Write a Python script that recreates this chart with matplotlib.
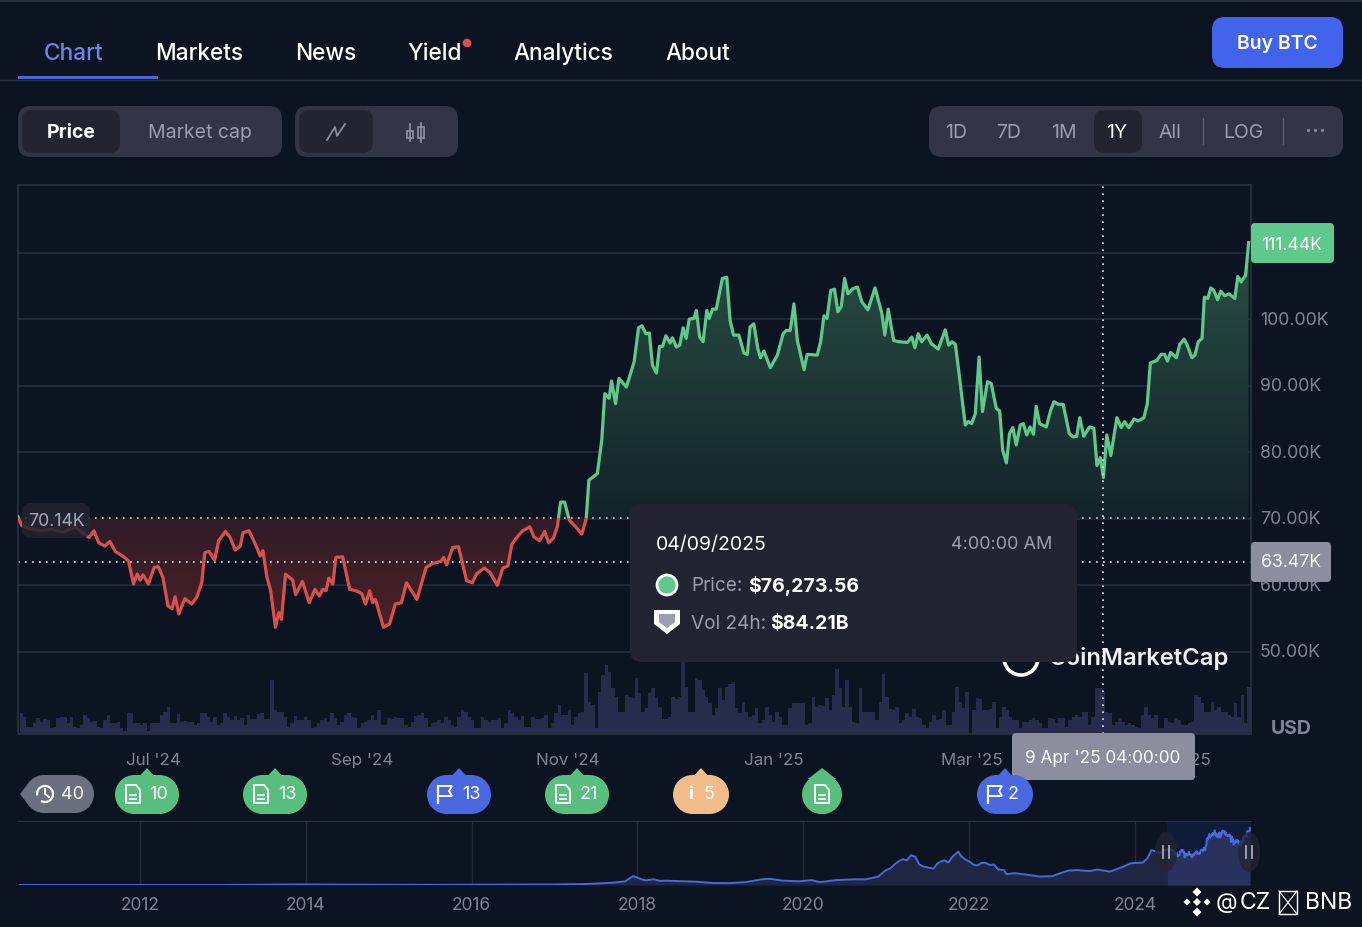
import numpy as np
import matplotlib
matplotlib.use('Agg')
import matplotlib.pyplot as plt
from matplotlib.colors import LinearSegmentedColormap
from matplotlib.patches import FancyBboxPatch, Rectangle, Circle, Ellipse, Polygon, Arc
from matplotlib.path import Path

plt.rcParams['font.family'] = ['Inter', 'DejaVu Sans']

# days since 22 May 2024, price in thousands of USD
days_a = [0, 1.1, 2.9, 6.4, 9.9, 13.4, 16.9, 21.0, 22.5, 23.9, 25.7, 27.2, 28.8, 31.0, 32.7, 34.2, 35.3, 36.2, 37.0,
          38.6, 40.3, 41.5, 42.9, 44.4, 45.6, 46.5, 47.6, 49.4, 51.4, 52.9, 54.4, 55.3, 56.5, 58.2, 59.4, 61.4, 62.8,
          64.3, 65.8, 66.6, 68.4, 70.5, 71.7, 72.5, 73.7, 74.8, 76.2, 77.2, 78.0, 79.2, 81.3, 82.2, 84.2, 86.2, 87.9,
          89.2, 90.2, 91.2, 92.0, 93.2, 94.1, 96.1, 98.2, 100.0, 101.7, 102.9, 104.1, 105.0, 105.8, 108.2, 110.0,
          111.7, 113.5, 115.0, 118.1, 120.8, 122.8, 125.2, 126.0, 126.9, 128.7, 130.4, 132.8, 134.5, 135.7, 138.0,
          139.8, 141.9, 143.5, 145.0, 146.2, 148.0, 149.4, 151.5, 152.7, 154.4, 155.9, 157.1, 158.5, 159.7, 160.6,
          161.8, 163.2, 164.9, 166.9, 168.2]
price_a = [70.3, 69.0, 68.6, 68.2, 68.4, 68.0, 68.8, 67.2, 68.2, 66.4, 65.9, 66.6, 65.1, 64.4, 63.7, 60.2, 61.7, 60.8, 61.6,
           60.2, 62.7, 62.8, 61.2, 56.9, 56.5, 58.3, 55.7, 58.0, 57.2, 58.2, 60.4, 64.9, 65.1, 63.8, 66.7, 68.1, 67.2,
           65.3, 65.9, 67.9, 68.2, 65.9, 64.4, 65.2, 61.2, 59.2, 53.7, 55.9, 54.9, 61.7, 60.8, 58.6, 60.6, 57.4, 59.4,
           58.4, 59.4, 59.2, 61.1, 60.2, 64.2, 64.3, 59.4, 59.2, 58.8, 57.2, 59.2, 57.4, 57.9, 53.7, 54.2,
           57.2, 57.4, 60.4, 57.9, 62.7, 63.3, 63.6, 64.2, 63.1, 65.7, 65.8, 60.7, 60.4, 61.7, 62.6,
           61.9, 60.0, 62.6, 62.9, 66.2, 67.4, 68.2, 68.8, 67.3, 66.7, 68.1, 66.4, 67.1, 68.9, 72.5,
           72.5, 69.8, 68.9, 67.7, 70.0]
days_b = [169.0, 171.5, 172.8, 173.7, 175.0, 175.7, 176.9, 177.9, 180.1, 182.4, 183.7, 184.7, 185.9, 186.9, 187.8, 189.0,
          189.9, 190.8, 191.8, 193.0, 193.7, 194.9, 195.9, 196.9, 197.8, 198.7, 200.1, 200.8, 201.8, 202.8, 203.9,
          204.6, 205.6, 206.7, 208.5, 209.8, 210.8, 211.8, 213.4, 214.9, 215.9, 216.7, 217.8, 219.0, 219.8, 220.8,
          222.7, 224.8, 226.5, 227.4, 228.6, 229.7, 230.7, 232.7, 233.6, 236.6, 237.6, 238.6, 239.5, 240.6, 241.7,
          242.7, 243.7, 244.7, 245.7, 247.2, 248.5, 249.8, 251.6, 253.7, 255.7, 256.6, 257.6, 259.2, 260.7, 263.3,
          264.6, 265.5, 266.5, 267.5, 269.1, 270.4, 272.4, 274.5, 275.5, 276.5, 277.5, 278.7, 280.4, 281.3, 282.3,
          283.4, 284.5, 285.5, 287.0, 288.1, 289.6, 290.6, 291.5, 292.6, 293.5, 294.5, 295.5, 296.7, 297.6, 298.6,
          299.6, 300.6, 301.4, 302.4, 304.4, 305.7, 306.7, 308.0, 309.4, 311.2, 312.3, 313.4, 314.3, 315.5, 317.2,
          318.5, 319.4, 320.4, 321.3, 322.3, 323.5, 325.3, 326.6, 327.6, 328.8, 330.4, 331.6, 333.3, 334.3, 335.2,
          337.1, 338.4, 339.4, 340.3, 341.2, 342.9, 343.9, 345.2, 346.1, 347.5, 348.4, 349.4, 350.5, 351.2, 352.2,
          353.1, 354.0, 355.1, 356.1, 357.2, 358.5, 360.2, 361.1, 362.1, 363.4, 364.3]
price_b = [75.8, 76.8, 81.8, 88.8, 88.1, 90.7, 87.3, 91.1, 89.8, 93.6, 98.7, 99.0, 97.8, 97.9, 93.1, 91.9,
           95.9, 95.9, 97.5, 96.4, 97.2, 95.8, 96.1, 98.7, 97.1, 100.0, 100.1, 101.3, 97.3, 96.6, 101.3,
           100.1, 101.5, 101.5, 106.1, 106.3, 99.8, 97.6, 97.6, 94.9, 94.7, 98.8, 99.3, 95.6, 94.2, 95.2,
           92.7, 94.6, 97.8, 98.3, 98.3, 102.3, 96.8, 92.4, 94.7, 94.6, 96.6, 100.5, 100.1, 104.3, 104.5,
           101.1, 101.9, 106.1, 103.8, 104.6, 104.8, 102.6, 101.4, 104.7, 100.9, 97.6, 101.5, 96.8, 96.6, 96.5,
           97.3, 95.7, 97.8, 96.6, 97.6, 96.3, 95.5, 98.4, 96.1, 96.6, 96.2, 91.3, 84.1, 84.6, 84.3,
           85.8, 94.3, 86.1, 90.6, 90.3, 86.6, 86.2, 80.3, 78.4, 82.8, 83.7, 81.1, 84.1, 84.3, 82.6,
           83.8, 82.7, 86.9, 84.3, 83.8, 86.3, 87.6, 87.2, 87.2, 82.8, 82.3, 82.4, 85.2, 82.4, 83.8,
           83.6, 78.0, 79.2, 76.2, 82.6, 79.5, 85.2, 83.7, 84.6, 83.7, 85.0, 84.7, 85.2, 87.3, 93.4,
           93.8, 94.7, 94.7, 93.7, 95.0, 94.2, 96.2, 97.0, 96.1, 94.2, 94.6, 96.6, 97.1, 103.3, 103.1,
           104.7, 104.3, 102.9, 104.2, 103.5, 103.8, 103.1, 106.4, 105.6, 106.6, 111.5]

base_price = 70.14
hover_price = 63.47
hover_day = 321.2
y_ticks = [50, 60, 70, 80, 90, 100, 110]
x_ticks = [40, 102, 162.7, 223.7, 282.4, 343.6]
x_labels = ["Jul '24", "Sep '24", "Nov '24", "Jan '25", "Mar '25", "May '25"]

# volume, four stretches of the year
vol_a = [21, 17, 7, 7, 11, 16, 12, 15, 14, 6, 7, 16, 17, 17, 11, 17, 7, 6, 9, 19, 16, 12, 13, 7, 6, 14, 19, 11, 11, 12,
         6, 3, 21, 21, 11, 11, 9, 11, 3, 11, 11, 11, 19, 22, 27, 11, 11, 20, 12, 13, 12, 12, 9, 11, 21, 21, 17, 12, 17,
         9, 11, 21, 17, 14, 18, 14, 16, 9, 19, 15, 15, 20, 21, 15, 15, 54, 24, 22, 22, 17, 7, 11, 18, 14, 14, 17, 14,
         6, 7, 11, 14, 16, 12, 21, 16]
vol_b = [11, 9, 12, 19, 21, 17, 16, 6, 11, 12, 14, 19, 14, 24, 9, 9, 16, 15, 17, 16, 16, 9, 7, 12, 18, 19, 21, 16, 7, 11,
         12, 14, 11, 17, 14, 9, 7, 17, 24, 22, 17, 14, 6, 6, 17, 14, 12, 14, 14, 16, 6, 11, 24, 21, 17, 14, 18, 7, 7,
         17, 15, 15, 16, 19, 6, 11, 21, 29, 19, 19, 24, 9, 17, 21, 22, 61, 32, 29, 6, 42, 59, 69, 62, 46, 37, 22, 22,
         39, 37, 36, 56, 41, 22, 26, 41, 46]
vol_c = [36, 27, 15, 15, 17, 37, 35, 37, 72, 47, 22, 22, 56, 54, 44, 37, 31, 19, 26, 46, 34, 47, 50, 52, 26, 21, 32, 22,
         17, 19, 26, 11, 14, 27, 19, 12, 22, 17, 9, 9, 26, 31, 31, 31, 31, 9, 11, 37, 27, 29, 28, 36, 24, 39, 65, 46,
         27, 54, 27, 12, 11, 46, 22, 22, 22, 22, 14, 32, 60, 37, 25, 24, 27, 11, 14, 21, 17, 25, 17, 16, 9, 6, 12, 19,
         14, 15, 24, 9, 9, 22, 47, 32, 26, 42]
vol_d = [24, 36, 35, 24, 24, 25, 32, 6, 17, 27, 24, 17, 14, 14, 6, 12, 12, 14, 16, 14, 11, 6, 6, 16, 15, 11, 16, 16, 7,
         14, 17, 19, 17, 22, 22, 9, 17, 46, 46, 42, 22, 21, 9, 12, 16, 12, 9, 11, 9, 7, 6, 19, 27, 19, 16, 19, 6, 6, 16,
         12, 11, 16, 14, 9, 9, 11, 12, 39, 37, 31, 22, 22, 32, 24, 27, 22, 22, 19, 17, 31, 17, 39, 11, 47]
vol_spans = [(1, 94), (94, 188), (189, 281), (283, 364.4)]
bn_per_unit = 1.83  # the hover bar reads $84.21B

# long history for the navigator, year and price in thousands
hist_year = [2010.55, 2013.0, 2013.9, 2014.5, 2015.5, 2016.5, 2017.0, 2017.4, 2017.7, 2017.85, 2017.95, 2018.05, 2018.1,
             2018.2, 2018.27, 2018.35, 2018.5, 2018.7, 2018.9, 2019.1, 2019.3, 2019.5, 2019.6, 2019.75, 2019.95, 2020.1,
             2020.2, 2020.4, 2020.6, 2020.75, 2020.9, 2021.0, 2021.05, 2021.1, 2021.15, 2021.2, 2021.25, 2021.3,
             2021.35, 2021.4, 2021.45, 2021.5, 2021.57, 2021.62, 2021.65, 2021.7, 2021.75, 2021.8, 2021.87, 2021.9,
             2021.95, 2022.0, 2022.05, 2022.1, 2022.15, 2022.2, 2022.25, 2022.3, 2022.35, 2022.42, 2022.45, 2022.55,
             2022.6, 2022.7, 2022.85, 2023.0, 2023.1, 2023.2, 2023.3, 2023.45, 2023.55, 2023.7, 2023.85, 2023.95,
             2024.1, 2024.15, 2024.2, 2024.3]
hist_price = [0, 0.01, 1, 0.6, 0.25, 0.65, 1, 2, 4.5, 7, 17.5, 11, 9, 11, 8, 8.5, 7.5, 6.5, 4, 3.6, 5.5, 11, 12, 8.5, 7.2,
              9.5, 5.5, 9.5, 11, 11, 16, 29, 32, 40, 46, 50, 48, 58, 55, 40, 36, 34, 32, 42, 45, 48, 44, 55, 65, 57,
              50, 46, 40, 38, 43, 43, 39, 40, 30, 29, 21, 23, 22, 20, 16.5, 17, 23, 28, 29, 27, 30, 26, 35, 42, 44,
              52, 68, 62]
window_start = 2024.39

bg = '#0d1421'
grid_col = '#222938'
frame_col = '#2b3242'
green = '#5ec98a'
red = '#d9514f'
blue = '#4263eb'
tick_col = '#7f8595'
panel = '#323546'
dark = '#222531'

W, H = 1362, 928
fig = plt.figure(figsize=(W / 100, H / 100), dpi=100, facecolor=bg)


def axes_px(x0, y0, x1, y1):
    return [x0 / W, 1 - (y1 + 1) / H, (x1 - x0) / W, (y1 - y0) / H]


days = np.array(days_a + days_b)
price = np.array(price_a + price_b)

# volume sits behind the price axes
vax = fig.add_axes(axes_px(18, 185, 1251, 734), zorder=1)
vax.axis('off')
for vals, (d0, d1) in zip([vol_a, vol_b, vol_c, vol_d], vol_spans):
    vals = np.array(vals) * bn_per_unit
    vax.bar(np.linspace(d0, d1, len(vals)), vals, width=1.05, color='#262d4b', linewidth=0)
vax.set_xlim(0, 365)
vax.set_ylim(0, 549 * bn_per_unit)

ax = fig.add_axes(axes_px(18, 185, 1251, 734), zorder=2)
ax.patch.set_visible(False)

cmap_g = LinearSegmentedColormap.from_list('g', ['#14232b', '#294f42'])
cmap_r = LinearSegmentedColormap.from_list('r', ['#2f1c26', '#4e2129'])
above = ax.fill_between(days, price, base_price, where=price >= base_price, interpolate=True, color='none')
below = ax.fill_between(days, price, base_price, where=price <= base_price, interpolate=True, color='none')
grad = np.linspace(0, 1, 256).reshape(-1, 1)
im_g = ax.imshow(grad, extent=[0, 365, base_price, 112], origin='lower', aspect='auto', cmap=cmap_g, zorder=1)
im_g.set_clip_path(Path.make_compound_path(*above.get_paths()), transform=ax.transData)
im_r = ax.imshow(grad, extent=[0, 365, base_price, 53], origin='lower', aspect='auto', cmap=cmap_r, zorder=1)
im_r.set_clip_path(Path.make_compound_path(*below.get_paths()), transform=ax.transData)

ax.set_xlim(0, 365)
ax.set_ylim(37.67, 120.15)
ax.set_yticks(y_ticks)
# the 110K label is covered by the last price tag
ax.set_yticklabels(['' if v == 110 else '%.2fK' % v for v in y_ticks], va='center')
ax.yaxis.tick_right()
ax.set_xticks(x_ticks)
ax.set_xticklabels(x_labels)
ax.tick_params(axis='y', length=0, pad=6.5, labelsize=12.8, labelcolor=tick_col)
ax.tick_params(axis='x', length=0, pad=13, labelsize=12.2, labelcolor=tick_col)
ax.grid(axis='y', color=grid_col, linewidth=1.4, zorder=0)
ax.set_axisbelow(True)
for s in ax.spines.values():
    s.set_color(frame_col)
    s.set_linewidth(1.2)

ax.axhline(base_price, color='#c9ccd4', lw=1.2, ls=(0, (1, 3.2)), zorder=2)
ax.axhline(hover_price, color='#e6e8ee', lw=1.2, ls=(0, (1, 3.2)), zorder=2)
ax.axvline(hover_day, color='#e6e8ee', lw=1.2, ls=(0, (1, 3.2)), zorder=4)
up_line, = ax.plot(days, price, color=green, lw=2.3, zorder=3, solid_joinstyle='round')
up_line.set_clip_path(Rectangle((0, base_price), 365, 60, transform=ax.transData))
down_line, = ax.plot(days, price, color=red, lw=2.3, zorder=3, solid_joinstyle='round')
down_line.set_clip_path(Rectangle((0, 30), 365, base_price - 30, transform=ax.transData))

# navigator
mini = fig.add_axes(axes_px(18, 821, 1251, 885), zorder=2)
mini.patch.set_visible(False)
m_year = np.concatenate([hist_year, window_start + days / 365])
m_price = np.concatenate([hist_price, price])
mini.axvspan(window_start, 2025.4, color='#101b3a', zorder=0)
mini.fill_between(m_year, m_price, 0, color='#1f2641', lw=0, zorder=1)
mini.fill_between(m_year, m_price, 0, where=m_year >= window_start, color='#28325c', lw=0, zorder=1)
mini.plot(m_year, m_price, color='#4a68dd', lw=1.4, zorder=2)
mini.set_xlim(2010.53, 2025.4)
mini.set_ylim(0, 124.5)
mini.set_yticks([])
mini.set_xticks(range(2012, 2025, 2))
mini.tick_params(axis='x', length=0, pad=8, labelsize=12.5, labelcolor=tick_col)
mini.grid(axis='x', color=grid_col, lw=1, zorder=0)
mini.set_axisbelow(True)
for k in ['left', 'right', 'bottom']:
    mini.spines[k].set_visible(False)
mini.spines['top'].set_color(frame_col)

# page furniture, drawn in image pixels on top of everything
ui = fig.add_axes([0, 0, 1, 1], zorder=5)
ui.set_xlim(0, W)
ui.set_ylim(H - 1, -1)
ui.axis('off')


def box(x0, y0, x1, y1, color, r=10, **kw):
    p = FancyBboxPatch((x0 + r, y0 + r), x1 - x0 - 2 * r, y1 - y0 - 2 * r,
                       boxstyle='round,pad=%g,rounding_size=%g' % (r, r), fc=color, ec='none', **kw)
    ui.add_patch(p)
    return p


def pill(x0, x1, y0, y1, color):
    r = (y1 - y0) / 2
    ui.add_patch(Rectangle((x0 + r, y0), x1 - x0 - 2 * r, y1 - y0, fc=color, ec='none'))
    ui.add_patch(Circle((x0 + r, y0 + r), r, fc=color, ec='none'))
    ui.add_patch(Circle((x1 - r, y0 + r), r, fc=color, ec='none'))


def txt(x, y, s, size=13, color='white', ha='left', weight='normal', **kw):
    return ui.text(x, y + 1, s, fontsize=size, color=color, ha=ha, va='center', fontweight=weight, **kw)


ui.plot([0, W], [1, 1], color='#2a2f3d', lw=1.5)
ui.plot([0, W], [79.5, 79.5], color='#2b3040', lw=1)
ui.add_patch(Rectangle((18, 76), 140, 3, fc='#4a67d6', ec='none'))
for x, s, c in [(44, 'Chart', '#6b86e6'), (155, 'Markets', 'white'), (295, 'News', 'white'),
                (407, 'Yield', 'white'), (513, 'Analytics', 'white'), (665, 'About', 'white')]:
    txt(x, 52, s, 16.3, c, weight='medium')
ui.add_patch(Circle((467, 43), 4.3, fc='#d9514f', ec='none'))

box(1212, 17, 1343, 68, blue, r=13)
txt(1277, 42, 'Buy BTC', 14, 'white', ha='center', weight='semibold')

box(18, 106, 282, 157, panel, r=13)
box(22, 110, 120, 153, dark, r=10)
txt(71, 131, 'Price', 14, 'white', ha='center', weight='bold')
txt(200, 131, 'Market cap', 14, '#9a9eae', ha='center')
box(295, 106, 458, 157, panel, r=13)
box(299, 110, 373, 153, dark, r=10)
ui.plot([327, 335, 337, 345], [140, 127, 136, 124], color='#8a8e9e', lw=1.3)
for cx, y0, y1, b0, b1 in [(410, 124, 141, 131, 138), (421, 123, 142, 127, 138)]:
    ui.plot([cx, cx], [y0, y1], color='#8a8e9e', lw=1.3)
    ui.add_patch(Rectangle((cx - 3, b0), 6, b1 - b0, fc='none', ec='#8a8e9e', lw=1.3, zorder=3))

box(929, 106, 1343, 157, panel, r=13)
box(1094, 110, 1142, 153, dark, r=10)
for x, s, c in [(956, '1D', '#9a9eae'), (1009, '7D', '#9a9eae'), (1064, '1M', '#9a9eae'), (1117, '1Y', 'white'),
                (1170, 'All', '#9a9eae'), (1243, 'LOG', '#9a9eae')]:
    txt(x, 131, s, 14, c, ha='center')
ui.plot([1203, 1203], [118, 144], color='#5b5f70', lw=1)
ui.plot([1283, 1283], [118, 144], color='#5b5f70', lw=1)
ui.plot([1308, 1315, 1322], [130, 130, 130], ls='none', marker='o', ms=1.4, color='#7f8595')

# price tags
box(22, 503, 90, 538, dark, r=9, alpha=0.85)
txt(56, 520, '70.14K', 12.8, '#a4a9ba', ha='center')
box(1251, 223, 1334, 263, green, r=4)
txt(1292, 243, '111.44K', 12.8, 'white', ha='center')
box(1251, 542, 1331, 582, '#8a8e9f', r=4)
txt(1291, 561, '63.47K', 12.8, 'white', ha='center')
txt(1291, 727, 'USD', 14, '#7f8595', ha='center', weight='bold')

# watermark under the tooltip
ui.add_patch(Arc((1021, 658), 34, 34, theta1=0, theta2=180, color='white', lw=2.6))
txt(1049, 657, 'CoinMarketCap', 17.2, '#eef0f5', weight='semibold')

# tooltip
box(630, 504, 1077, 662, dark, r=12, zorder=4)
txt(656, 543, '04/09/2025', 14, 'white', zorder=5)
txt(1052, 543, '4:00:00 AM', 13, '#9a9eae', ha='right', zorder=5)
ui.add_patch(Circle((667, 585), 10, fc=green, ec='white', lw=2, zorder=5))
txt(691, 584, 'Price:', 13.7, '#9a9eae', zorder=5)
txt(748, 584, '$76,273.56', 14, 'white', weight='bold', zorder=5)
ui.add_patch(Polygon([(654, 610), (680, 610), (680, 624), (667, 634), (654, 624)], fc='white', ec='none', zorder=5))
ui.add_patch(Polygon([(659, 614), (675, 614), (675, 622), (667, 628), (659, 622)], fc='#9a9eae', ec='none', zorder=5))
txt(691, 622, 'Vol 24h:', 13.7, '#9a9eae', zorder=5)
txt(770, 622, '$84.21B', 14, 'white', weight='bold', zorder=5)

# crosshair date
box(1012, 733, 1195, 780, '#8a8e9f', r=4)
txt(1103, 757, "9 Apr '25 04:00:00", 12.4, 'white', ha='center')


def doc_icon(cx, cy):
    ui.add_patch(Polygon([(cx - 7, cy - 9), (cx + 3, cy - 9), (cx + 7, cy - 4), (cx + 7, cy + 9), (cx - 7, cy + 9)],
                         fc='none', ec='white', lw=1.4, zorder=6))
    ui.plot([cx - 3, cx + 3], [cy + 1, cy + 1], color='white', lw=1.3, zorder=6)
    ui.plot([cx - 3, cx + 3], [cy + 5, cy + 5], color='white', lw=1.3, zorder=6)


def flag_icon(cx, cy):
    ui.plot([cx - 7, cx - 7], [cy - 8, cy + 9], color='white', lw=1.6, zorder=6)
    ui.add_patch(Polygon([(cx - 7, cy - 8), (cx + 7, cy - 8), (cx + 4, cy - 3), (cx + 7, cy + 2), (cx - 7, cy + 2)],
                         fc='none', ec='white', lw=1.4, zorder=6))


def badge(x0, x1, color, icon, label):
    cx = (x0 + x1) / 2
    pill(x0, x1, 775, 814, color)
    half = 10 if label else 14
    ui.add_patch(Polygon([(cx - half, 779), (cx, 768), (cx + half, 779)], fc=color, ec='none'))
    ix = x0 + 18 if label else cx
    if icon == 'doc':
        doc_icon(ix, 794)
    elif icon == 'flag':
        flag_icon(ix, 794)
    else:
        txt(ix, 793, 'i', 13, 'white', ha='center', zorder=6, weight='bold')
    if label:
        txt(x1 - 20, 793, label, 13, 'white', ha='center', zorder=6)


pill(25, 94, 775, 813, '#6b7080')
ui.add_patch(Polygon([(30, 781), (20, 794), (30, 807)], fc='#6b7080', ec='none'))
ui.add_patch(Arc((45, 794), 16, 16, theta1=-190, theta2=120, color='white', lw=1.6, zorder=6))
ui.plot([45, 45, 49], [789, 794, 797], color='white', lw=1.4, zorder=6)
txt(73, 793, '40', 13, 'white', ha='center', zorder=6)

badge(115, 179, '#58bf7e', 'doc', '10')
badge(243, 307, '#58bf7e', 'doc', '13')
badge(427, 491, '#4a68e0', 'flag', '13')
badge(545, 609, '#58bf7e', 'doc', '21')
badge(673, 729, '#f2bd8a', 'info', '5')
badge(803, 841, '#58bf7e', 'doc', '')
badge(977, 1033, '#4a68e0', 'flag', '2')

# navigator handles
for cx in [1166, 1249]:
    ui.add_patch(Ellipse((cx, 852), 22, 40, fc=dark, ec='none', alpha=0.75))
    ui.plot([cx - 3, cx - 3], [846, 858], color='#b5b9c6', lw=1.2)
    ui.plot([cx + 3, cx + 3], [846, 858], color='#b5b9c6', lw=1.2)

# reposter mark in the corner
for dx, dy, sz in [(0, -10, 4.5), (-10, 0, 3.5), (10, 0, 3.5), (0, 10, 4.5), (0, 0, 4)]:
    ui.add_patch(Polygon([(1197 + dx, 902 + dy - sz), (1197 + dx + sz, 902 + dy), (1197 + dx, 902 + dy + sz),
                          (1197 + dx - sz, 902 + dy)], fc='white', ec='none'))
txt(1216, 901, '@', 16, 'white')
txt(1240, 901, 'CZ', 16.5, 'white')
ui.add_patch(Rectangle((1279, 891), 18, 23, fc='none', ec='white', lw=1))
ui.plot([1279, 1297], [891, 914], color='white', lw=0.8)
ui.plot([1279, 1297], [914, 891], color='white', lw=0.8)
txt(1305, 901, 'BNB', 16.5, 'white')

fig.savefig('out.png', dpi=100, facecolor=bg)
